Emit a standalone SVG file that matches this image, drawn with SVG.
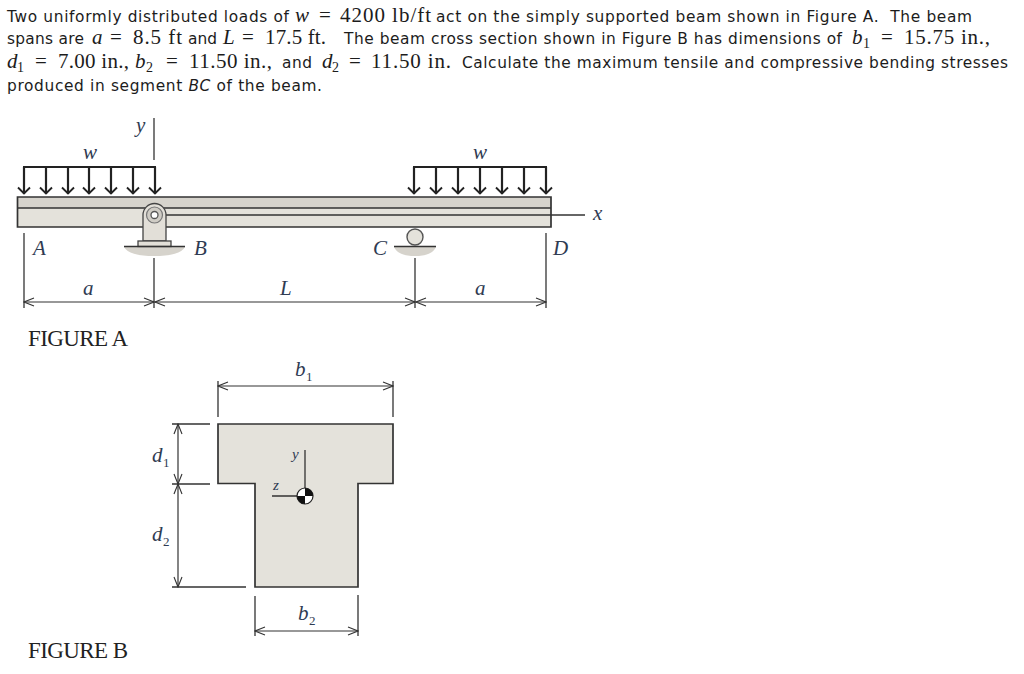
<svg xmlns="http://www.w3.org/2000/svg" width="1024" height="674" viewBox="0 0 1024 674">
<style>
.p{font-family:"DejaVu Sans","Liberation Sans",sans-serif;font-size:15.4px;fill:#1c1c1c}
.m{font-family:"Liberation Serif",serif;font-size:21px;fill:#1c1c1c}
.mi{font-family:"Liberation Serif",serif;font-size:21px;font-style:italic;fill:#1c1c1c}
.s{font-family:"Liberation Serif",serif;font-size:14px;fill:#1c1c1c}
.l{font-family:"Liberation Serif",serif;font-size:21px;font-style:italic;fill:#2f3b52}
.ls{font-family:"Liberation Serif",serif;font-size:13px;fill:#2f3b52}
.sm{font-family:"Liberation Serif",serif;font-size:15px;font-style:italic;fill:#2f3b52}
.f{font-family:"Liberation Serif",serif;font-size:23px;fill:#222}
.k{stroke:#333;stroke-width:1.3;fill:none}
.t{stroke:#333;stroke-width:1.7;fill:none}
.h{stroke:#222;stroke-width:2.2;fill:none}
.a{stroke:#222;stroke-width:2.2;fill:none;marker-end:url(#la)}
.g{fill:#d6d3cc}
.c{fill:#e4e2db}
.d{stroke:#333;stroke-width:1.2;fill:none;marker-start:url(#ds);marker-end:url(#de)}
</style>
<defs>
<marker id="de" markerUnits="userSpaceOnUse" markerWidth="12" markerHeight="10" refX="11" refY="5" orient="auto"><path d="M1 1 L11 5 L1 9" fill="none" stroke="#333" stroke-width="1.100"/></marker>
<marker id="ds" markerUnits="userSpaceOnUse" markerWidth="12" markerHeight="10" refX="1" refY="5" orient="auto"><path d="M11 1 L1 5 L11 9" fill="none" stroke="#333" stroke-width="1.100"/></marker>
<marker id="la" markerUnits="userSpaceOnUse" markerWidth="16" markerHeight="10" refX="7" refY="8.500" orient="0"><path d="M1 2 L7 8 L13 2" fill="none" stroke="#222" stroke-width="1.900"/></marker>
</defs>

<g id="problem-text">
<text class="p" x="7" y="22" textLength="282">Two uniformly distributed loads of</text>
<text class="mi" x="295" y="22">w</text><text class="m" x="319" y="22">=</text>
<text class="m" x="340" y="22" textLength="91">4200 lb/ft</text>
<text class="p" x="436" y="22" textLength="536" xml:space="preserve">act on the simply supported beam shown in Figure A.  The beam</text>

<text class="p" x="7" y="44" textLength="77">spans are</text>
<text class="mi" x="92" y="44">a</text><text class="m" x="110" y="44">=</text>
<text class="m" x="133" y="44" textLength="49">8.5 ft</text>
<text class="p" x="188" y="44" textLength="29">and</text>
<text class="mi" x="223" y="44">L</text><text class="m" x="242" y="44">=</text>
<text class="m" x="265" y="44" textLength="61">17.5 ft.</text>
<text class="p" x="344" y="44" textLength="498">The beam cross section shown in Figure B has dimensions of</text>
<text class="mi" x="852" y="44">b</text><text class="s" x="863" y="48">1</text><text class="m" x="881" y="44">=</text>
<text class="m" x="904" y="44" textLength="86">15.75 in.,</text>

<text class="mi" x="7" y="68">d</text><text class="s" x="17" y="72">1</text><text class="m" x="35" y="68">=</text>
<text class="m" x="58" y="68" textLength="71">7.00 in.,</text>
<text class="mi" x="135" y="68">b</text><text class="s" x="146" y="72">2</text><text class="m" x="166" y="68">=</text>
<text class="m" x="189" y="68" textLength="83">11.50 in.,</text>
<text class="p" x="282" y="68" textLength="30">and</text>
<text class="mi" x="322" y="68">d</text><text class="s" x="332" y="72">2</text><text class="m" x="349" y="68">=</text>
<text class="m" x="371" y="68" textLength="80">11.50 in.</text>
<text class="p" x="462" y="68" textLength="546">Calculate the maximum tensile and compressive bending stresses</text>

<text class="p" x="7" y="91" textLength="315">produced in segment <tspan font-style="italic">BC</tspan> of the beam.</text>
</g>

<g id="figure-a-beam">
<rect class="g" x="17.500" y="197" width="533.500" height="11"/>
<rect class="c" x="17.500" y="208" width="533.500" height="19"/>
<path class="t" d="M17.500 197H551V227H17.500Z M17.500 208H551"/>
<path class="k" d="M166 215H551"/>
</g>

<g id="connectors">
<g id="load-left">
<path class="h" d="M23 167H156"/>
<path class="a" d="M24 167V194"/><path class="a" d="M46 167V194"/><path class="a" d="M68 167V194"/><path class="a" d="M89 167V194"/><path class="a" d="M111 167V194"/><path class="a" d="M133 167V194"/><path class="a" d="M155 167V194"/>
</g>
<g id="load-right">
<path class="h" d="M413 167H547"/>
<path class="a" d="M414 167V194"/><path class="a" d="M436 167V194"/><path class="a" d="M458 167V194"/><path class="a" d="M480 167V194"/><path class="a" d="M502 167V194"/><path class="a" d="M524 167V194"/><path class="a" d="M546 167V194"/>
</g>
<path id="axis-y" class="k" d="M154 118V160"/>
<path id="axis-x" class="k" d="M551 215H585"/>
<path id="ext-a" class="k" d="M24 233V308"/>
<path id="ext-b" class="k" d="M154 258V308"/>
<path id="ext-c" class="k" d="M415 258V308"/>
<path id="ext-dd" class="k" d="M546 233V308"/>
<path id="dim-a1" class="d" d="M24 302H154"/>
<path id="dim-l" class="d" d="M155 302H415"/>
<path id="dim-a2" class="d" d="M416 302H546"/>
<path id="ext-b1" class="k" d="M218 381V417M393 381V417"/>
<path id="dim-b1" class="d" d="M218 386H393"/>
<path id="ext-d" class="k" d="M172 424H210M172 484H210M172 587H246"/>
<path id="dim-d1" class="d" d="M178 424V484"/>
<path id="dim-d2" class="d" d="M178 484V587"/>
<path id="ext-b2" class="k" d="M255 596V636M358 595V636"/>
<path id="dim-b2" class="d" d="M255 631H358"/>
</g>

<g id="support-b">
<path d="M124 247H185Q180 256 154 256Q129 256 124 247Z" class="g"/>
<path d="M143 241V215A11.500 11.500 0 0 1 166 215V241Z" fill="#e2dfd8" stroke="#444" stroke-width="1.300"/>
<rect x="138" y="241" width="33" height="5.500" fill="#e2dfd8" stroke="#444" stroke-width="1.300"/>
<path class="k" d="M124 246.500H185"/>
<circle cx="154.500" cy="215" r="8" fill="#cfccc5" stroke="#777" stroke-width="1.200"/>
<circle cx="154.500" cy="215" r="3.500" fill="#fff" stroke="#555" stroke-width="1.300"/>
</g>

<g id="support-c">
<path d="M394 247H436Q432 256 415 256Q398 256 394 247Z" class="g"/>
<circle cx="415" cy="237" r="8" fill="#e4e2db" stroke="#555" stroke-width="1.400"/>
<path class="t" d="M394 246.500H436"/>
</g>

<g id="figure-a-labels">
<text class="l" x="136" y="132">y</text>
<text class="l" x="83" y="159">w</text>
<text class="l" x="473" y="159">w</text>
<text class="l" x="33" y="255">A</text>
<text class="l" x="194" y="255">B</text>
<text class="l" x="373" y="255">C</text>
<text class="l" x="553" y="255">D</text>
<text class="l" x="83" y="295">a</text>
<text class="l" x="280" y="295">L</text>
<text class="l" x="475" y="295">a</text>
<text class="l" x="593" y="220">x</text>
<text class="f" x="28" y="346" textLength="100">FIGURE A</text>
</g>

<g id="figure-b-section">
<path d="M218 424H393V483.500H358V587H255V483.500H218Z" fill="#e4e2db" stroke="#333" stroke-width="1.700"/>
<path class="k" d="M305 450V488M272 496H298"/>
<circle cx="305" cy="496" r="8" fill="#fff" stroke="#222" stroke-width="1.200"/>
<path d="M305 496V488A8 8 0 0 1 313 496ZM305 496V504A8 8 0 0 1 297 496Z" fill="#111"/>
</g>

<g id="figure-b-labels">
<text class="l" x="295" y="376">b</text><text class="ls" x="306" y="381">1</text>
<text class="l" x="152" y="462">d</text><text class="ls" x="163" y="467">1</text>
<text class="l" x="152" y="541">d</text><text class="ls" x="163" y="546">2</text>
<text class="l" x="298" y="620">b</text><text class="ls" x="309" y="625">2</text>
<text class="sm" x="292" y="459">y</text>
<text class="sm" x="273" y="490">z</text>
<text class="f" x="28" y="658" textLength="100">FIGURE B</text>
</g>
</svg>
